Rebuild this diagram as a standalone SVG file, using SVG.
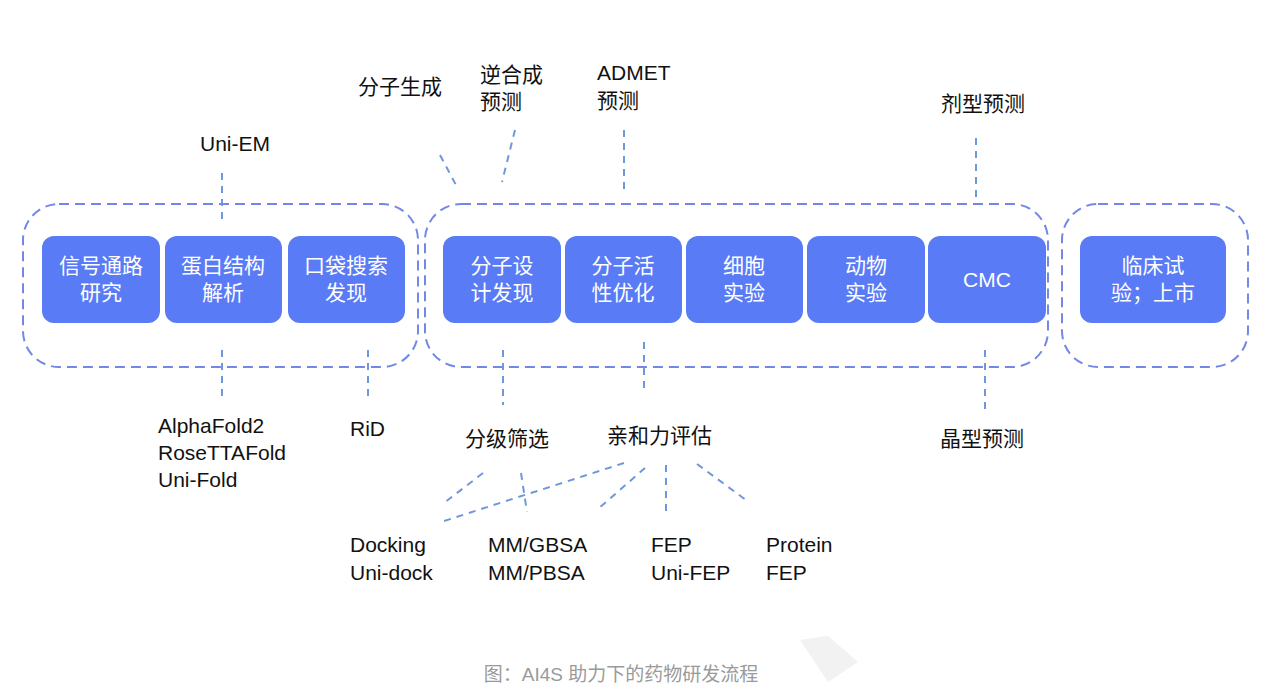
<svg xmlns="http://www.w3.org/2000/svg" width="1280" height="700" viewBox="0 0 1280 700">
<style>
.n{fill:#5a7bf6}
.nt{font-family:"Liberation Sans","Noto Sans CJK SC",sans-serif;font-size:21px;fill:#fff;text-anchor:middle}
.g{fill:none;stroke:#7388e6;stroke-width:2;stroke-dasharray:10 6}
.c{stroke:#6f98da;stroke-width:2;stroke-dasharray:7 6;fill:none}
.t{font-family:"Liberation Sans","Noto Sans CJK SC",sans-serif;font-size:21px;fill:#111}
</style>
<rect width="1280" height="700" fill="#fff"/>
<g id="containers">
<rect class="g" x="23" y="204" width="395" height="163" rx="36"/>
<rect class="g" x="425" y="204" width="623" height="163" rx="36"/>
<rect class="g" x="1062" y="204" width="186" height="163" rx="36"/>
</g>
<g id="n1"><rect class="n" x="42" y="236" width="118" height="87" rx="12"/><text class="nt" x="101" y="273">信号通路</text><text class="nt" x="101" y="300">研究</text></g>
<g id="n2"><rect class="n" x="165" y="236" width="117" height="87" rx="12"/><text class="nt" x="223" y="273">蛋白结构</text><text class="nt" x="223" y="300">解析</text></g>
<g id="n3"><rect class="n" x="288" y="236" width="117" height="87" rx="12"/><text class="nt" x="346" y="273">口袋搜索</text><text class="nt" x="346" y="300">发现</text></g>
<g id="n4"><rect class="n" x="443" y="236" width="118" height="87" rx="12"/><text class="nt" x="502" y="273">分子设</text><text class="nt" x="502" y="300">计发现</text></g>
<g id="n5"><rect class="n" x="565" y="236" width="117" height="87" rx="12"/><text class="nt" x="623" y="273">分子活</text><text class="nt" x="623" y="300">性优化</text></g>
<g id="n6"><rect class="n" x="686" y="236" width="117" height="87" rx="12"/><text class="nt" x="744" y="273">细胞</text><text class="nt" x="744" y="300">实验</text></g>
<g id="n7"><rect class="n" x="807" y="236" width="118" height="87" rx="12"/><text class="nt" x="866" y="273">动物</text><text class="nt" x="866" y="300">实验</text></g>
<g id="n8"><rect class="n" x="928" y="236" width="118" height="87" rx="12"/><text class="nt" x="987" y="287">CMC</text></g>
<g id="n9"><rect class="n" x="1080" y="236" width="146" height="87" rx="12"/><text class="nt" x="1153" y="273">临床试</text><text class="nt" x="1153" y="300">验；上市</text></g>
<g id="connectors">
<line class="c" x1="222" y1="173" x2="222" y2="225"/>
<line class="c" x1="222" y1="350" x2="222" y2="400"/>
<line class="c" x1="368" y1="350" x2="368" y2="400"/>
<line class="c" x1="440" y1="155" x2="456" y2="185"/>
<line class="c" x1="515" y1="130" x2="502" y2="182"/>
<line class="c" x1="624" y1="130" x2="624" y2="190"/>
<line class="c" x1="976" y1="138" x2="976" y2="198"/>
<line class="c" x1="985" y1="350" x2="985" y2="410"/>
<line class="c" x1="503" y1="350" x2="503" y2="405"/>
<line class="c" x1="644" y1="342" x2="644" y2="392"/>
<line class="c" x1="483" y1="473" x2="444" y2="503"/>
<line class="c" x1="521" y1="473" x2="527" y2="512"/>
<line class="c" x1="624" y1="463" x2="441" y2="522"/>
<line class="c" x1="645" y1="468" x2="598" y2="509"/>
<line class="c" x1="666" y1="465" x2="666" y2="515"/>
<line class="c" x1="697" y1="464" x2="746" y2="500"/>
</g>
<g id="labels">
<text class="t" x="200" y="151">Uni-EM</text>
<text class="t" x="358" y="94">分子生成</text>
<text class="t" x="480" y="82">逆合成</text><text class="t" x="480" y="109">预测</text>
<text class="t" x="597" y="80">ADMET</text><text class="t" x="597" y="108">预测</text>
<text class="t" x="941" y="111">剂型预测</text>
<text class="t" x="158" y="433">AlphaFold2</text><text class="t" x="158" y="460">RoseTTAFold</text><text class="t" x="158" y="487">Uni-Fold</text>
<text class="t" x="350" y="436">RiD</text>
<text class="t" x="465" y="446">分级筛选</text>
<text class="t" x="607" y="443">亲和力评估</text>
<text class="t" x="940" y="446">晶型预测</text>
<text class="t" x="350" y="552">Docking</text><text class="t" x="350" y="580">Uni-dock</text>
<text class="t" x="488" y="552">MM/GBSA</text><text class="t" x="488" y="580">MM/PBSA</text>
<text class="t" x="651" y="552">FEP</text><text class="t" x="651" y="580">Uni-FEP</text>
<text class="t" x="766" y="552">Protein</text><text class="t" x="766" y="580">FEP</text>
</g>
<polygon points="800,640 828,636 858,662 828,682" fill="#f2f2f2"/>
<text x="621" y="681" text-anchor="middle" font-family="Liberation Sans,'Noto Sans CJK SC',sans-serif" font-size="19" fill="#9a9a9a">图：AI4S 助力下的药物研发流程</text>
</svg>
